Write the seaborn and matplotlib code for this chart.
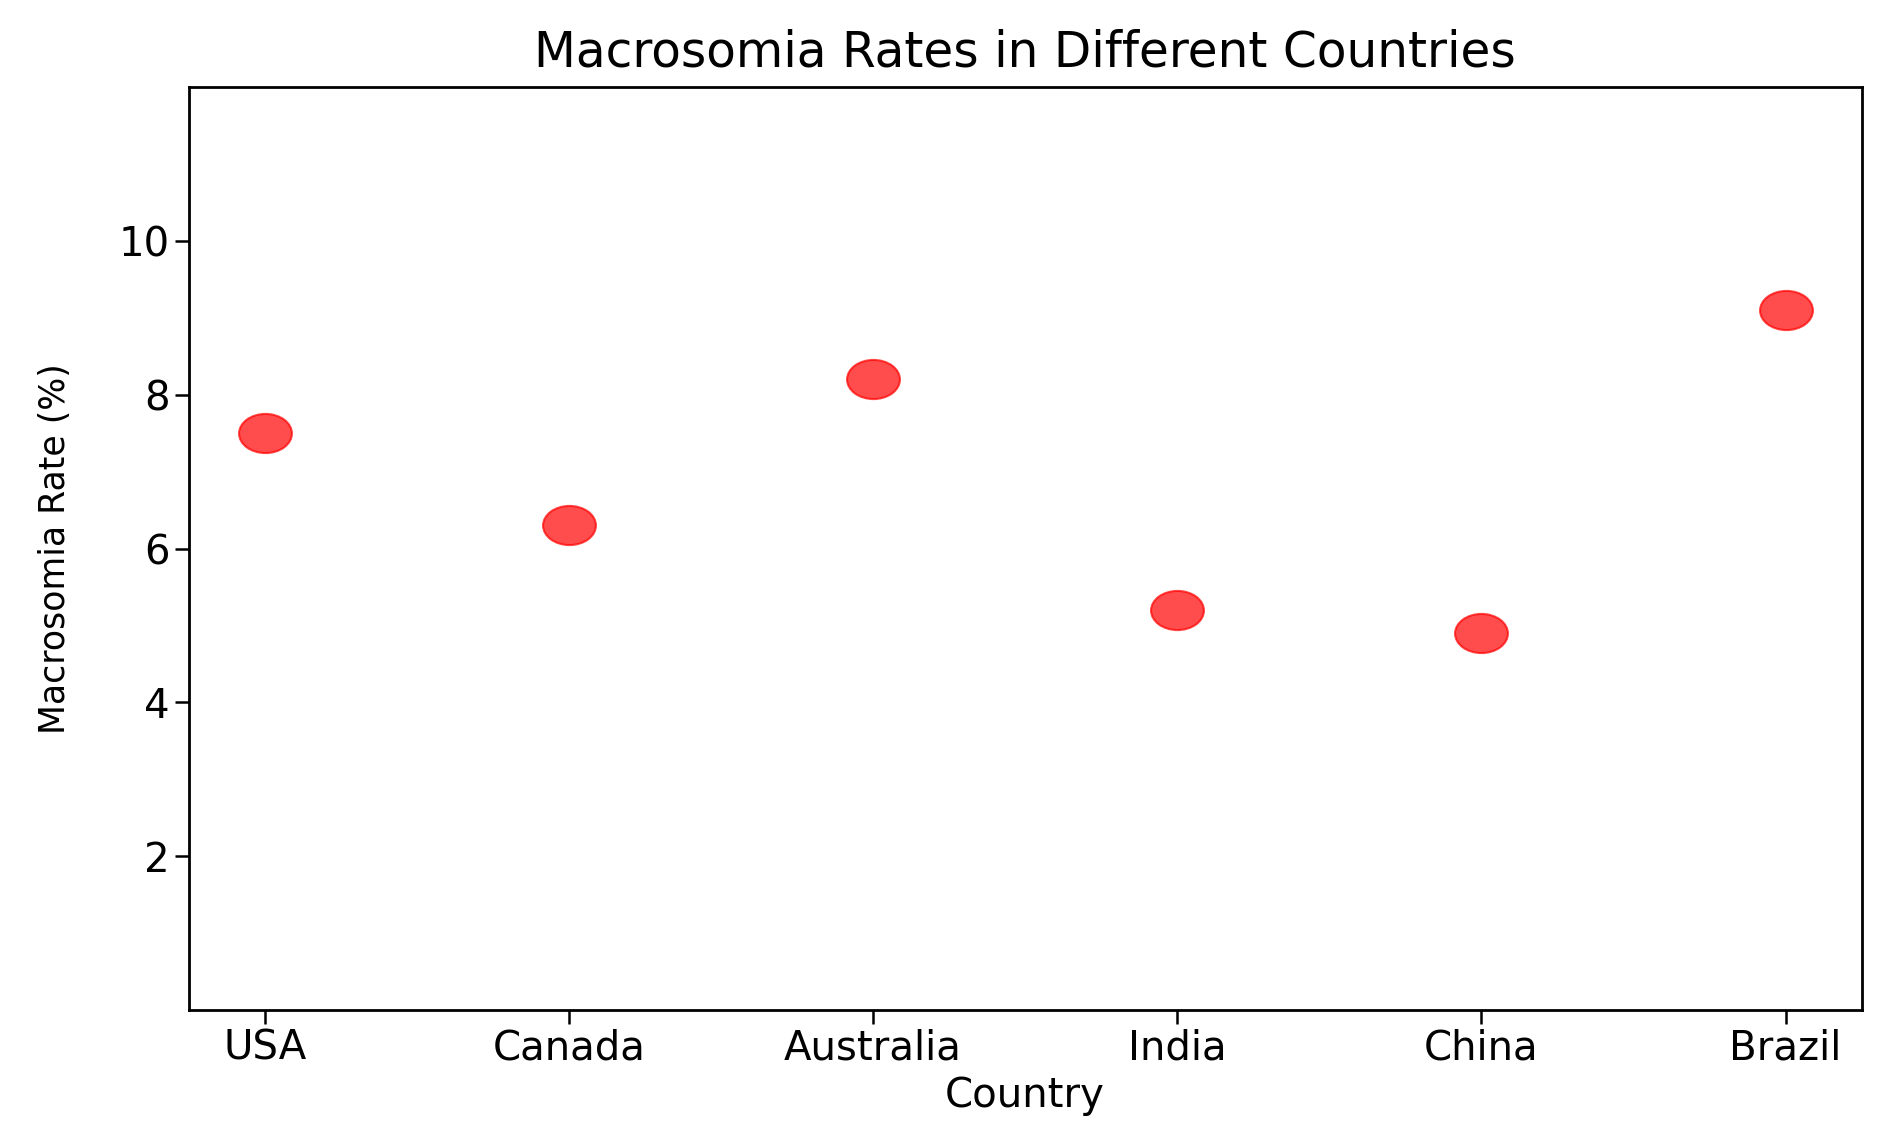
import matplotlib
matplotlib.use("Agg")
import matplotlib.pyplot as plt
from matplotlib.path import Path
from matplotlib.transforms import Affine2D
import pandas as pd
import seaborn as sns

countries = ["USA", "Canada", "Australia", "India", "China", "Brazil"]
rates = [7.5, 6.3, 8.2, 5.2, 4.9, 9.1]
y_ticks = [2, 4, 6, 8, 10]

df = pd.DataFrame({"Country": countries, "Macrosomia Rate (%)": rates})

sns.set_style("ticks")
plt.rcParams["font.family"] = ["DejaVu Sans"]
plt.rcParams["text.color"] = "black"
plt.rcParams["axes.labelcolor"] = "black"
plt.rcParams["xtick.color"] = "black"
plt.rcParams["ytick.color"] = "black"

# the original picture is stretched sideways, so the dots are ellipses
ellipse = Path.unit_circle().transformed(Affine2D().scale(1.35, 1.0))

fig, ax = plt.subplots(figsize=(18.88, 11.44), dpi=100)
fig.subplots_adjust(left=0.100, right=0.986, bottom=0.117, top=0.924)

sns.scatterplot(data=df, x="Country", y="Macrosomia Rate (%)", ax=ax,
                color="red", alpha=0.7, s=1450, marker=ellipse,
                edgecolor="red", linewidth=1.5)

ax.set_ylim(0, 12)
ax.set_yticks(y_ticks)
ax.margins(x=0.05)

ax.set_title("Macrosomia Rates in Different Countries", fontsize=35, pad=15)
ax.set_xlabel("Country", fontsize=29, labelpad=5)
ax.set_ylabel("Macrosomia Rate (%)", fontsize=25, labelpad=34)
ax.tick_params(axis="both", labelsize=29, length=10, width=1.8)

for sp in ax.spines.values():
    sp.set_color("black")
    sp.set_linewidth(2)

fig.savefig("out.png", dpi=100)
